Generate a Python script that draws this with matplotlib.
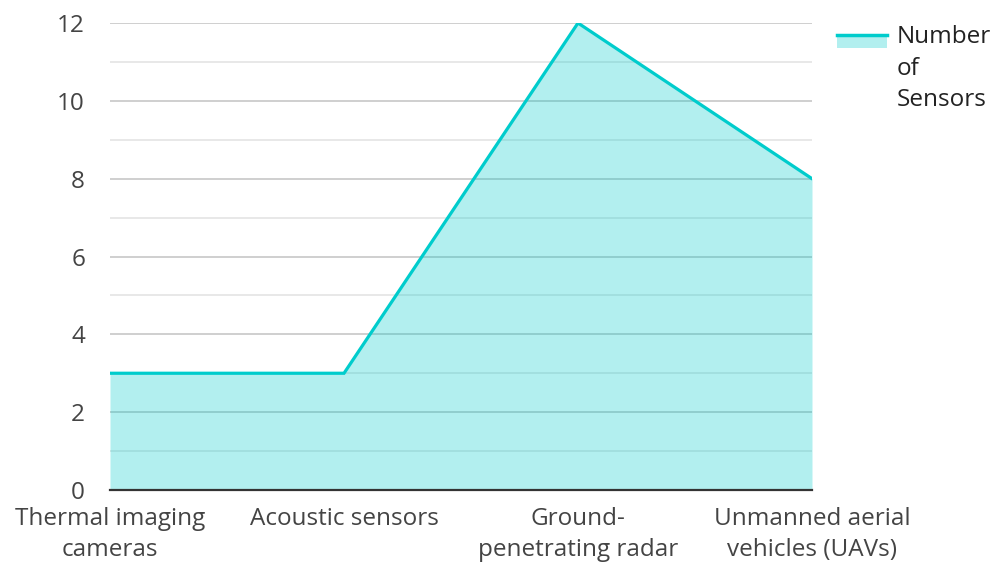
import numpy as np
import matplotlib
matplotlib.use('Agg')
import matplotlib.pyplot as plt
from matplotlib.patches import Rectangle
from matplotlib.lines import Line2D

categories = ["Thermal imaging\ncameras", "Acoustic sensors",
              "Ground-\npenetrating radar", "Unmanned aerial\nvehicles (UAVs)"]
sensors = [3, 3, 12, 8]
series_label = "Number\nof\nSensors"

LINE_C = '#00cccc'
TEXT_C = '#444444'

plt.rcParams['font.family'] = ['Open Sans', 'DejaVu Sans']
plt.rcParams['font.size'] = 17.5

W, H = 996, 564
fig = plt.figure(figsize=(W / 100, H / 100), dpi=100)
ax = fig.add_axes([110 / W, 1 - 490 / H, 702 / W, 467 / H])

x = np.arange(len(categories))
ax.fill_between(x, sensors, color=LINE_C, alpha=0.3, lw=0, zorder=3)
ax.plot(x, sensors, color=LINE_C, lw=2.3, zorder=4, solid_joinstyle='miter')

ax.set_xlim(0, len(categories) - 1)
ax.set_ylim(0, 12)
ax.set_yticks(np.arange(0, 13, 2))
ax.set_yticks(np.arange(1, 12, 2), minor=True)
ax.set_xticks(x)
ax.set_xticklabels(categories, color=TEXT_C, linespacing=1.42)
ax.tick_params(axis='y', length=0, pad=18, labelcolor=TEXT_C, which='both')
ax.tick_params(axis='x', length=0, pad=12)

ax.grid(axis='y', which='major', color='#cccccc', lw=1.3, zorder=1)
ax.grid(axis='y', which='minor', color='#e6e6e6', lw=1.3, zorder=1)
ax.set_axisbelow(True)
for s in ['top', 'right', 'left']:
    ax.spines[s].set_visible(False)
ax.spines['bottom'].set_color('#333333')
ax.spines['bottom'].set_linewidth(1.6)
ax.spines['bottom'].set_zorder(5)

# legend entry: pale box with a thick line on top, label to the right
fig.patches.append(Rectangle((837 / W, 1 - 48 / H), 50 / W, 14 / H,
                             transform=fig.transFigure, facecolor=LINE_C,
                             alpha=0.3, edgecolor='none'))
fig.lines.append(Line2D([837 / W, 887 / W], [1 - 34.5 / H] * 2,
                        transform=fig.transFigure, color=LINE_C, lw=2.5))
fig.text(897 / W, 1 - 25 / H, series_label, color='#222222',
         ha='left', va='top', linespacing=1.42)

fig.savefig('out.png', dpi=100)
